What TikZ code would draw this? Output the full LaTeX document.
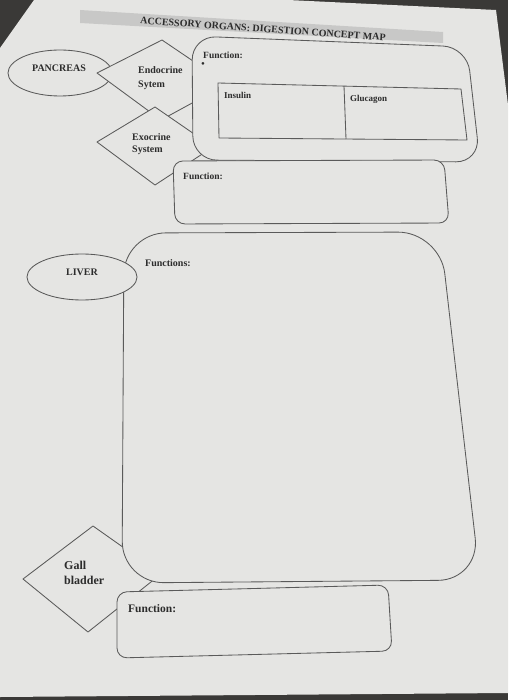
\documentclass[tikz,border=0pt]{standalone}
\usepackage{fontspec}
\setmainfont{Liberation Serif}
\usetikzlibrary{shapes.geometric}
\definecolor{bgdark}{HTML}{3A3937}
\definecolor{paper}{HTML}{E5E5E3}
\definecolor{band}{HTML}{C8C8C7}
\definecolor{linec}{HTML}{5A5A5A}
\definecolor{txt}{HTML}{2C2C2C}
\begin{document}
\begin{tikzpicture}[x=1pt,y=-1pt,
  outline/.style={draw=linec, line width=0.85pt, fill=paper, line join=round},
  thinline/.style={draw=linec, line width=0.85pt, line join=round},
  oval/.style={outline, ellipse, inner sep=0pt},
  lbl/.style={text=txt, inner sep=0pt, font=\bfseries\fontsize{10}{12}\selectfont},
  lblsmall/.style={lbl, font=\bfseries\fontsize{9}{11}\selectfont},
  lblbig/.style={lbl, font=\bfseries\fontsize{11.5}{14}\selectfont},
]
\useasboundingbox (0,0) rectangle (508,700);
% photo background and paper sheet
\fill[bgdark] (0,0) rectangle (508,700);
\fill[paper] (0,48) -- (34,0) -- (288,0) -- (496,10) -- (508,105) -- (508,693) -- (0,697) -- cycle;

% title band
\fill[band] (80,10) -- (443,32) -- (443,43) -- (80,23) -- cycle;
\node[lbl, rotate=-4] (title) at (263,29) {ACCESSORY ORGANS: DIGESTION CONCEPT MAP};

% pancreas
\node[oval, minimum width=104pt, minimum height=46pt] (pancreas) at (60,73) {};
\node[lbl] (pancreasT) at (59,68) {PANCREAS};

% endocrine diamond
\coordinate (enT) at (162,40);
\coordinate (enR) at (227,84);
\coordinate (enB) at (161,120);
\coordinate (enL) at (97,73);
\draw[outline] (enT) -- (enR) -- (enB) -- (enL) -- cycle;
\node[lbl, align=left, anchor=west, font=\bfseries\fontsize{10}{14}\selectfont] (endoT) at (138,78) {Endocrine\\Sytem};

% exocrine diamond
\coordinate (exT) at (155,107);
\coordinate (exR) at (213,147);
\coordinate (exB) at (155,185);
\coordinate (exL) at (97,142);
\draw[outline] (exT) -- (exR) -- (exB) -- (exL) -- cycle;
\node[lbl, align=left, anchor=west, font=\bfseries\fontsize{10}{12.5}\selectfont] (exoT) at (132,144) {Exocrine\\System};

% endocrine function box
\coordinate (tbA) at (300,40.3);
\coordinate (tbTR) at (467,47);
\coordinate (tbBR) at (480,162);
\coordinate (tbBL) at (193,160);
\coordinate (tbTL) at (192,36);
\draw[outline, rounded corners=24pt] (tbA) -- (tbTR) -- (tbBR) -- (tbBL) -- (tbTL) -- cycle;
\node[lbl, anchor=west, font=\bfseries\fontsize{9.5}{11}\selectfont] (fun1) at (203,55) {Function:};
\node[lbl, anchor=west, font=\fontsize{11}{12}\selectfont] (bullet) at (201,65) {•};

% insulin / glucagon table
\coordinate (taTL) at (218,83);
\coordinate (taTR) at (461,89);
\coordinate (taBR) at (467,140);
\coordinate (taBL) at (219,138);
\coordinate (taDT) at (344,86);
\coordinate (taDB) at (346,139);
\draw[thinline] (taTL) -- (taTR) -- (taBR) -- (taBL) -- cycle;
\draw[thinline] (taDT) -- (taDB);
\node[lblsmall, anchor=west] (insulin) at (224,95) {Insulin};
\node[lblsmall, anchor=west] (glucagon) at (350,99) {Glucagon};

% exocrine function box
\coordinate (ebA) at (300,160.5);
\coordinate (ebTR) at (444,160);
\coordinate (ebBR) at (449,223);
\coordinate (ebBL) at (175,224);
\coordinate (ebTL) at (173,161);
\draw[outline, rounded corners=10pt] (ebA) -- (ebTR) -- (ebBR) -- (ebBL) -- (ebTL) -- cycle;
\node[lbl, anchor=west, font=\bfseries\fontsize{9.5}{11}\selectfont] (fun2) at (183,176) {Function:};

% gall bladder diamond
\coordinate (gbT) at (93,526);
\coordinate (gbR) at (161,574);
\coordinate (gbB) at (88,632);
\coordinate (gbL) at (23,579);
\draw[outline] (gbT) -- (gbR) -- (gbB) -- (gbL) -- cycle;
\node[lbl, align=left, anchor=west, font=\bfseries\fontsize{12}{15}\selectfont] (gallT) at (64,573) {Gall\\bladder};

% liver function box
\coordinate (lbA) at (280,232.5);
\coordinate (lbTR) at (440,232);
\coordinate (lbBR) at (480,580);
\coordinate (lbBL) at (122,583);
\coordinate (lbTL) at (124,233);
\draw[outline, rounded corners=42pt] (lbA) -- (lbTR) -- (lbBR) -- (lbBL) -- (lbTL) -- cycle;
\node[lbl, anchor=west] (fun3) at (145,263) {Functions:};

% gall bladder function box
\coordinate (gfA) at (250,588.6);
\coordinate (gfTR) at (388,585);
\coordinate (gfBR) at (392,651);
\coordinate (gfBL) at (117,658);
\coordinate (gfTL) at (117,592);
\draw[outline, rounded corners=10pt] (gfA) -- (gfTR) -- (gfBR) -- (gfBL) -- (gfTL) -- cycle;
\node[lblbig, anchor=west] (fun4) at (128,609) {Function:};

% liver
\node[oval, minimum width=110pt, minimum height=46pt] (liver) at (82,277) {};
\node[lbl] (liverT) at (82,272) {LIVER};
\end{tikzpicture}
\end{document}
